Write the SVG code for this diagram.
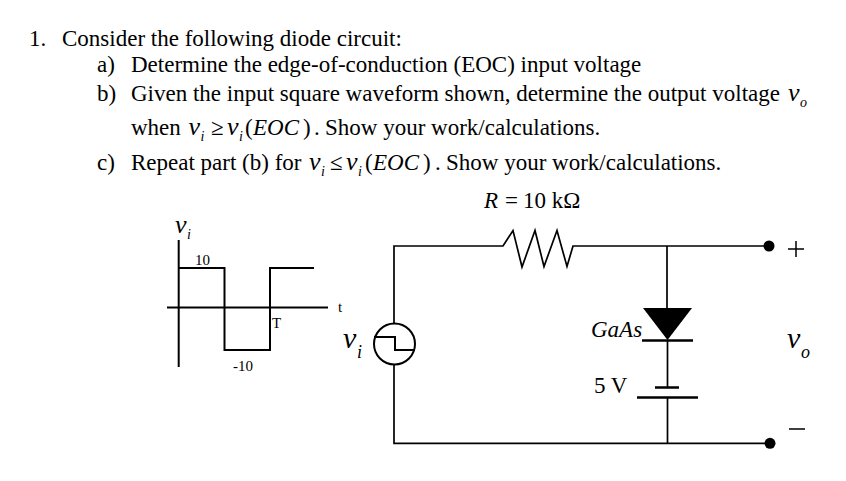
<svg xmlns="http://www.w3.org/2000/svg" width="846" height="481" viewBox="0 0 846 481">
<style>
text{font-family:"Liberation Serif","Times New Roman",serif;fill:#000}
.t{font-size:23px}
.i{font-style:italic}
.v{font-size:26px;font-style:italic}
.V{font-size:30px;font-style:italic}
.s{font-size:14px;font-style:italic}
.S{font-size:18px;font-style:italic}
.sm{font-size:15px}
.w{fill:none;stroke:#000;stroke-width:1.7}
.k{fill:none;stroke:#000;stroke-width:2}
</style>
<rect width="846" height="481" fill="#fff"/>
<g id="question">
<text class="t" x="29" y="46">1.</text>
<text class="t" x="62" y="46">Consider the following diode circuit:</text>
<text class="t" x="97" y="72">a)</text>
<text class="t" x="131" y="72">Determine the edge-of-conduction (EOC) input voltage</text>
<text class="t" x="97" y="101">b)</text>
<text class="t" x="131" y="101">Given the input square waveform shown, determine the output voltage</text>
<text class="v" x="788" y="101">v</text><text class="s" x="800" y="107">o</text>
<text class="t" x="131" y="135">when</text>
<text class="v" x="188.500" y="135">v</text><text class="s" x="200.500" y="141">i</text>
<text class="t" x="211" y="135">≥</text>
<text class="v" x="227" y="135">v</text><text class="s" x="239" y="141">i</text>
<text class="t" x="245" y="135">(</text><text class="t i" x="253" y="135">EOC</text><text class="t" x="303" y="135">)</text>
<text class="t" x="314" y="135">.</text>
<text class="t" x="325" y="135">Show your work/calculations.</text>
<text class="t" x="97" y="170">c)</text>
<text class="t" x="131" y="170">Repeat part (b) for</text>
<text class="v" x="309" y="170">v</text><text class="s" x="321" y="176">i</text>
<text class="t" x="330" y="170">≤</text>
<text class="v" x="346" y="170">v</text><text class="s" x="358" y="176">i</text>
<text class="t" x="365" y="170">(</text><text class="t i" x="373" y="170">EOC</text><text class="t" x="423" y="170">)</text>
<text class="t" x="435" y="170">.</text>
<text class="t" x="446" y="170">Show your work/calculations.</text>
</g>
<g id="connectors">
<path class="w" d="M394 323V246H503L513 230.500L522 267L535 230.500L544 266.500L557 230.500L567 266.500L573 246H766"/>
<path class="w" d="M667 246V308M667.500 340V387M667.500 398V443M394 365V443.300H770"/>
</g>
<g id="waveform">
<path class="k" d="M178.700 240V367M167 307.500H328M179 268H224.500V350H270V268H314"/>
<text class="v" x="175" y="233">v</text><text class="s" x="187" y="239">i</text>
<text class="sm" x="195" y="265">10</text>
<text class="sm" x="233" y="371">-10</text>
<text class="sm" x="338" y="312">t</text>
<text class="sm" x="272" y="328">T</text>
</g>
<g id="source">
<circle class="k" cx="394.500" cy="344" r="20.500"/>
<path class="k" d="M374 337H395V350H415"/>
<text class="V" x="343" y="348">v</text><text class="S" x="357" y="358">i</text>
</g>
<g id="resistor"><text class="t i" x="484" y="208">R</text><text class="t" x="505" y="208">=</text><text class="t" x="523" y="208">10 kΩ</text></g>
<g id="diode">
<path d="M643 308H692L667.500 340Z" fill="#000"/>
<path d="M642 340.500H693" fill="none" stroke="#000" stroke-width="2.500"/>
<text class="t i" x="591" y="337">GaAs</text>
</g>
<g id="battery">
<path d="M655 387.500H679M637 397.500H698" fill="none" stroke="#000" stroke-width="2.500"/>
<text class="t" x="594" y="393">5 V</text>
</g>
<g id="output">
<circle cx="769" cy="246" r="5.500"/>
<circle cx="770" cy="443.300" r="5.500"/>
<path d="M788 249H804M796 241V257M789 429H805" fill="none" stroke="#000" stroke-width="1.500"/>
<text class="V" x="787" y="348">v</text><text class="S" x="801" y="358">o</text>
</g>
</svg>
